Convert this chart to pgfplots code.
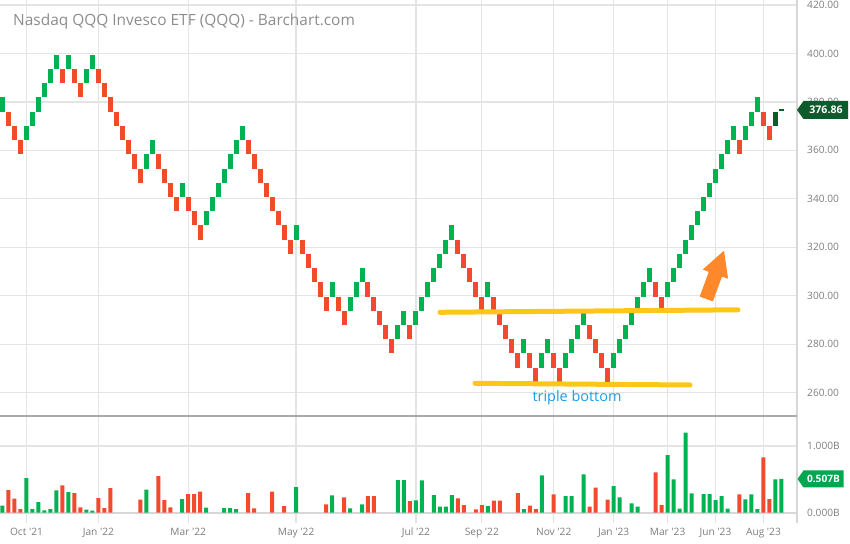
\documentclass[border=0pt]{standalone}
\usepackage{pgfplots}
\usepackage{pgfplotstable}
\pgfplotsset{compat=1.18}
\usepackage{fontspec}
\setmainfont{Open Sans}
\definecolor{bgreen}{RGB}{0,178,80}
\definecolor{bred}{RGB}{243,74,45}
\definecolor{dgreen}{RGB}{12,92,44}
\definecolor{tagdark}{RGB}{14,90,44}
\definecolor{taggreen}{RGB}{0,166,80}
\definecolor{gridgray}{RGB}{228,228,228}
\definecolor{zerogray}{RGB}{215,215,215}
\definecolor{ticktext}{RGB}{125,125,125}
\definecolor{titlegray}{RGB}{140,140,140}
\definecolor{sepgray}{RGB}{170,170,170}
\definecolor{bordergray}{RGB}{215,215,215}
\definecolor{goldline}{RGB}{255,198,26}
\definecolor{arroworange}{RGB}{255,136,42}
\definecolor{textblue}{RGB}{30,155,225}

% Renko bricks: n = brick index, mid = brick centre price (brick size 5.87)
\pgfplotstableread{
n mid
1 378.915
5 367.175
6 373.045
7 378.915
8 384.785
9 390.655
10 396.525
12 396.525
15 390.655
16 396.525
25 355.435
26 361.305
31 343.695
35 331.955
36 337.825
37 343.695
38 349.565
39 355.435
40 361.305
41 367.175
50 326.085
56 302.605
59 296.735
60 302.605
61 308.475
67 284.995
68 290.865
70 290.865
71 296.735
72 302.605
73 308.475
74 314.345
75 320.215
76 326.085
82 302.605
88 279.125
91 273.255
92 279.125
95 273.255
96 279.125
97 284.995
98 290.865
103 273.255
104 279.125
105 284.995
106 290.865
107 296.735
108 302.605
109 308.475
112 302.605
113 308.475
114 314.345
115 320.215
116 326.085
117 331.955
118 337.825
119 343.695
120 349.565
121 355.435
122 361.305
123 367.175
125 367.175
126 373.045
127 378.915
}\greenbricks

\pgfplotstableread{
n mid
2 373.045
3 367.175
4 361.305
11 390.655
13 390.655
14 384.785
17 390.655
18 384.785
19 378.915
20 373.045
21 367.175
22 361.305
23 355.435
24 349.565
27 355.435
28 349.565
29 343.695
30 337.825
32 337.825
33 331.955
34 326.085
42 361.305
43 355.435
44 349.565
45 343.695
46 337.825
47 331.955
48 326.085
49 320.215
51 320.215
52 314.345
53 308.475
54 302.605
55 296.735
57 296.735
58 290.865
62 302.605
63 296.735
64 290.865
65 284.995
66 279.125
69 284.995
77 320.215
78 314.345
79 308.475
80 302.605
81 296.735
83 296.735
84 290.865
85 284.995
86 279.125
87 273.255
89 273.255
90 267.385
93 273.255
94 267.385
99 284.995
100 279.125
101 273.255
102 267.385
110 302.605
111 296.735
124 361.305
128 373.045
129 367.175
}\redbricks

\pgfplotstableread{
n mid
130 373.045
}\lastbrick

% Volume (billions)
\pgfplotstableread{
n v
1 0.105
5 0.52
6 0.055
7 0.16
8 0.035
9 0.055
10 0.335
12 0.31
15 0.045
16 0.03
25 0.345
31 0.205
35 0.075
38 0.07
39 0.07
40 0.055
50 0.385
56 0.26
59 0.065
61 0.125
67 0.49
68 0.49
70 0.185
71 0.485
73 0.265
74 0.09
75 0.09
76 0.265
82 0.10
88 0.055
91 0.56
95 0.25
96 0.25
98 0.575
103 0.40
104 0.23
106 0.14
107 0.09
112 0.865
113 0.50
114 0.06
115 1.20
116 0.29
118 0.28
119 0.28
120 0.19
121 0.25
122 0.06
125 0.20
126 0.275
127 0.055
130 0.50
131 0.507
}\greenvol

\pgfplotstableread{
n v
2 0.34
3 0.21
4 0.055
11 0.41
13 0.295
14 0.08
17 0.22
18 0.07
19 0.37
24 0.195
27 0.55
28 0.19
29 0.08
32 0.28
33 0.28
34 0.315
42 0.295
43 0.065
46 0.315
48 0.10
55 0.125
58 0.23
62 0.25
63 0.25
69 0.175
77 0.215
78 0.115
80 0.05
81 0.115
83 0.18
84 0.18
87 0.295
89 0.105
90 0.055
93 0.275
99 0.09
100 0.375
102 0.195
110 0.605
111 0.115
124 0.275
128 0.83
129 0.205
}\redvol

\pgfplotsset{
  tickfont/.style={font=\fontsize{10.2}{12}\selectfont, text=ticktext},
}

\begin{document}
\begin{tikzpicture}
\useasboundingbox (0,0) rectangle (850bp,544bp);

% ---------- price panel ----------
\begin{axis}[
  scale only axis, width=797bp, height=415.7bp,
  at={(0bp,128.3bp)}, anchor=south west,
  xmin=0.584, xmax=133.6, ymin=250.5, ymax=422.07,
  axis line style={draw=none},
  tick style={draw=none}, major tick length=0pt,
  xtick={5,17,32,50,70,81,93,103,112,120,128}, xticklabels={},
  ytick={260,280,300,320,340,360,380,400,420},
  yticklabels={260.00,280.00,300.00,320.00,340.00,360.00,380.00,400.00,420.00},
  yticklabel pos=right,
  yticklabel style={anchor=west, inner sep=0pt, xshift=10bp, tickfont},
  xmajorgrids, ymajorgrids,
  major grid style={draw=gridgray, line width=1.2bp},
]
\addplot[only marks, mark=none, bgreen,
  error bars/.cd, y dir=both, y fixed=2.935, error mark=none,
  error bar style={line width=5bp, bgreen}]
  table[x=n, y=mid] {\greenbricks};
\addplot[only marks, mark=none, bred,
  error bars/.cd, y dir=both, y fixed=2.935, error mark=none,
  error bar style={line width=5bp, bred}]
  table[x=n, y=mid] {\redbricks};
\addplot[only marks, mark=none, dgreen,
  error bars/.cd, y dir=both, y fixed=2.935, error mark=none,
  error bar style={line width=5bp, dgreen}]
  table[x=n, y=mid] {\lastbrick};
\addplot[dgreen, line width=2bp, mark=none] coordinates {(130.55,376.86) (131.4,376.86)};
\end{axis}

% ---------- volume panel ----------
\begin{axis}[
  scale only axis, width=797bp, height=107.3bp,
  at={(0bp,21bp)}, anchor=south west,
  xmin=0.584, xmax=133.6, ymin=-0.1544, ymax=1.4543,
  axis line style={draw=none},
  tick style={draw=none}, major tick length=0pt,
  xtick={5,17,32,50,70,81,93,103,112,120,128},
  xticklabels={Oct \textquotesingle21,Jan \textquotesingle22,Mar \textquotesingle22,May \textquotesingle22,Jul \textquotesingle22,Sep \textquotesingle22,Nov \textquotesingle22,Jan \textquotesingle23,Mar \textquotesingle23,Jun \textquotesingle23,Aug \textquotesingle23},
  xticklabel style={anchor=north, inner sep=0pt, yshift=-5bp, tickfont},
  ytick={0,1}, yticklabels={0.000B,1.000B},
  yticklabel pos=right,
  yticklabel style={anchor=west, inner sep=0pt, xshift=10bp, tickfont},
  xmajorgrids, ymajorgrids,
  major grid style={draw=gridgray, line width=1.2bp},
]
\addplot[zerogray, line width=2.4bp, mark=none, forget plot] coordinates {(0.584,0) (133.6,0)};
\addplot[ybar, bar width=4bp, bar shift=0pt, fill=bgreen, draw=none] table[x=n, y=v] {\greenvol};
\addplot[ybar, bar width=4bp, bar shift=0pt, fill=bred, draw=none] table[x=n, y=v] {\redvol};
\end{axis}

% ---------- frame, annotations, tags (pixel coordinates) ----------
\begin{scope}[x=1bp, y=-1bp, shift={(0bp,544bp)}]
  \draw[bordergray, line width=1.2bp] (797,0) -- (797,523);
  \draw[sepgray, line width=2bp] (0,415.7) -- (797,415.7);
  \node[anchor=base west, inner sep=0pt, font=\fontsize{15.5}{18}\selectfont, text=titlegray] at (13,26) {Nasdaq QQQ Invesco ETF (QQQ) - Barchart.com};
  \draw[goldline, line width=5bp, line cap=round] (440,312.3) -- (738,309.8);
  \draw[goldline, line width=5bp, line cap=round] (475,383.3) -- (690,385);
  \node[text=textblue, font=\fontsize{14.5}{16}\selectfont, inner sep=0pt] at (577,398) {triple bottom};
  \fill[arroworange, rounded corners=0.6bp] (724,250.7) -- (728.1,278.8) -- (722,276.6) -- (712.9,301.4) -- (699.7,296.6) -- (708.8,271.8) -- (702.7,269.6) -- cycle;
  \fill[tagdark] (797,110) -- (803.5,101) -- (848,101) -- (848,119) -- (803.5,119) -- cycle;
  \node[text=white, font=\bfseries\fontsize{10.6}{12}\selectfont, inner sep=0pt] at (826,110) {376.86};
  \fill[taggreen] (797.5,479) -- (803.5,470.5) -- (843.5,470.5) -- (843.5,487.5) -- (803.5,487.5) -- cycle;
  \node[text=white, font=\bfseries\fontsize{10.2}{12}\selectfont, inner sep=0pt] at (823.5,479) {0.507B};
\end{scope}
\end{tikzpicture}
\end{document}
